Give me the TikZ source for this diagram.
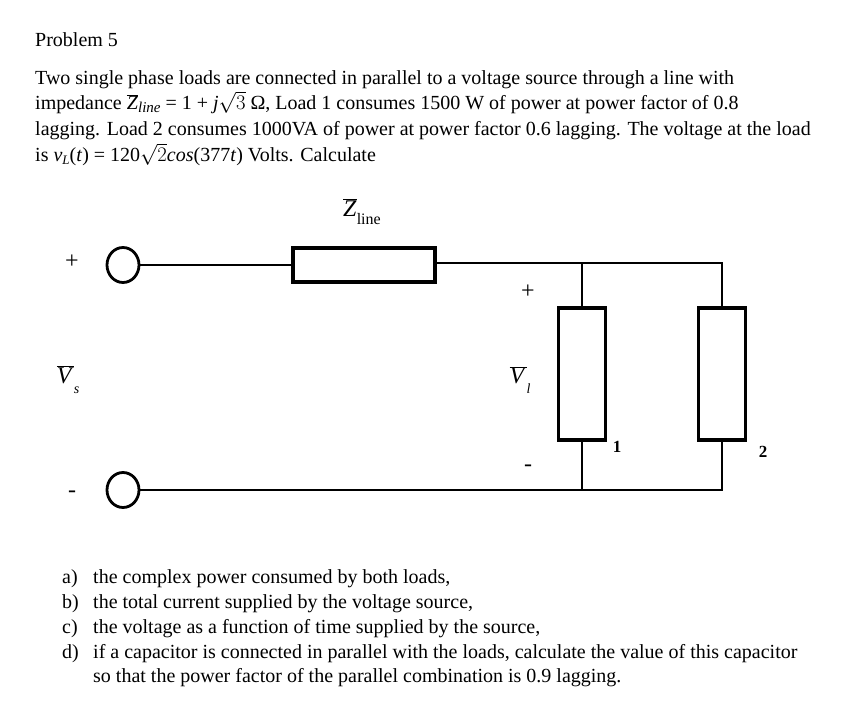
\documentclass[tikz,border=0pt]{standalone}
\usepackage{fontspec}
\usetikzlibrary{shapes.geometric}
\setmainfont{Liberation Serif}
\newcommand{\ovl}[1]{$\overline{\hbox{#1}}$}
\begin{document}
\begin{tikzpicture}[x=1pt,y=-1pt,
  txt/.style={anchor=base west,inner sep=0pt,font=\fontsize{20}{22}\selectfont},
  lbl/.style={inner sep=0pt,font=\fontsize{24}{26}\selectfont},
  wire/.style={line width=2.8pt},
  term/.style={ellipse,draw,line width=2.8pt,minimum width=32pt,minimum height=35pt,inner sep=0pt},
  res/.style={draw,line width=3.2pt,inner sep=0pt}]
\useasboundingbox (0,0) rectangle (859,727);
\node[txt] (p) at (35,47) {Problem 5};
\node[txt] (l1) at (35,85) {Two single phase loads are connected in parallel to a voltage source through a line with};
\node[txt] (l2) at (35,110) {impedance \ovl{\textit{Z}}\raisebox{-3pt}{\fontsize{15}{15}\selectfont\textit{line}} = 1 + \textit{j}$\sqrt{3}$ Ω, Load 1 consumes 1500 W of power at power factor of 0.8};
\node[txt] (l3) at (35,136) {lagging. Load 2 consumes 1000VA of power at power factor 0.6 lagging. The voltage at the load};
\node[txt] (l4) at (35,162) {is \textit{v}\raisebox{-3pt}{\fontsize{13}{13}\selectfont\textit{L}}(\textit{t}) = 120$\sqrt{2}$\textit{cos}(377\textit{t}) Volts. Calculate};
% circuit
\node[term] (t1) at (123,265) {};
\node[term] (t2) at (123,490) {};
\node[res,minimum width=142pt,minimum height=34pt] (z) at (364,265) {};
\node[res,minimum width=47pt,minimum height=132pt] (r1) at (582,374) {};
\node[res,minimum width=47pt,minimum height=132pt] (r2) at (722,374) {};
\coordinate (j1) at (582,263);
\coordinate (c2) at (722,263);
\coordinate (b1) at (582,490);
\coordinate (b2) at (722,490);
\draw[wire] (t1.east) -- (z.west);
\draw[wire] (z.east |- j1) -- (j1) -- (c2) -- (r2.north);
\draw[wire] (j1) -- (r1.north);
\draw[wire] (t2.east) -- (b1) -- (b2) -- (r2.south);
\draw[wire] (b1) -- (r1.south);
\node[lbl] (zl) at (362,212) {\ovl{\textit{Z}}\raisebox{-8pt}{\fontsize{16}{16}\selectfont line}};
\node[lbl] (pp1) at (72,262) {+};
\node[lbl] (mm1) at (72,494) {-};
\node[lbl] (vs) at (68,380) {\ovl{\textit{V}}\raisebox{-10pt}{\fontsize{14}{14}\selectfont\textit{s}}};
\node[lbl] (pp2) at (528,292) {+};
\node[lbl] (mm2) at (528,468) {-};
\node[lbl] (vl) at (520,380) {\ovl{\textit{V}}\raisebox{-10pt}{\fontsize{14}{14}\selectfont\textit{l}}};
\node[lbl,font=\fontsize{17}{17}\selectfont\bfseries] (n1) at (617,447) {1};
\node[lbl,font=\fontsize{17}{17}\selectfont\bfseries] (n2) at (763,452) {2};
% questions
\node[txt] (a) at (62,583) {a)};
\node[txt] (at) at (93,583) {the complex power consumed by both loads,};
\node[txt] (b) at (62,608) {b)};
\node[txt] (bt) at (93,608) {the total current supplied by the voltage source,};
\node[txt] (c) at (62,633) {c)};
\node[txt] (ct) at (93,633) {the voltage as a function of time supplied by the source,};
\node[txt] (d) at (62,658) {d)};
\node[txt] (dt) at (93,658) {if a capacitor is connected in parallel with the loads, calculate the value of this capacitor};
\node[txt] (dt2) at (93,682) {so that the power factor of the parallel combination is 0.9 lagging.};
\end{tikzpicture}
\end{document}
